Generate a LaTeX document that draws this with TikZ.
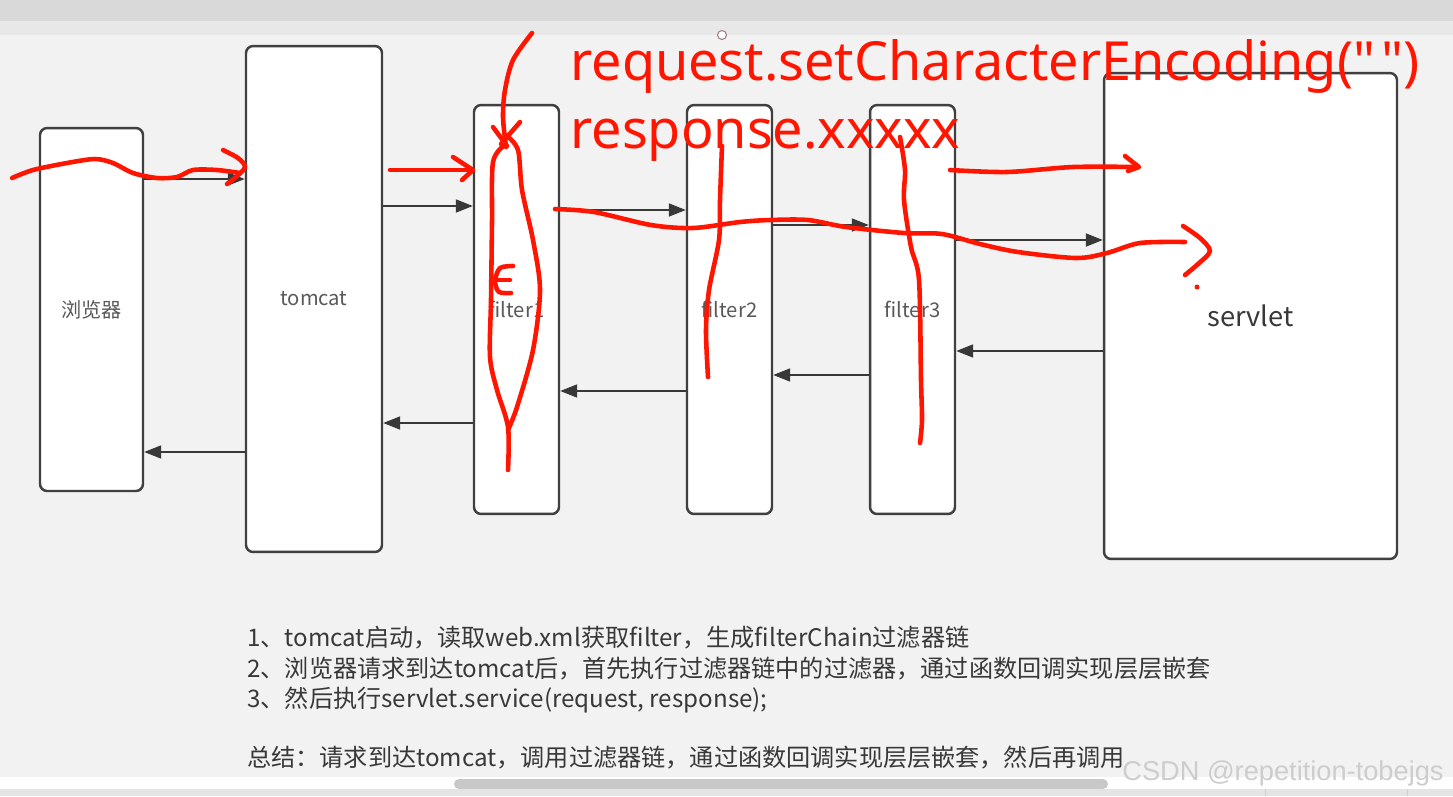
\documentclass[tikz,border=0pt]{standalone}
\usepackage{fontspec}
\setmainfont{Noto Sans CJK SC}
\newfontfamily\wmfont{Liberation Sans}
\newfontfamily\penfont{Noto Sans}
\usetikzlibrary{arrows.meta,positioning,calc}
\definecolor{canvas}{HTML}{F2F2F2}
\definecolor{topbar}{HTML}{D9D9D9}
\definecolor{tabbar}{HTML}{E8E8E8}
\definecolor{edge}{HTML}{404040}
\definecolor{ink}{HTML}{383838}
\definecolor{label}{HTML}{595959}
\definecolor{pen}{HTML}{FF1500}
\definecolor{thumb}{HTML}{C8C8C8}
\definecolor{strip}{HTML}{E4E4E4}
\definecolor{wmgray}{HTML}{CDCDCD}
\definecolor{cursor}{HTML}{A07C7C}
\tikzset{
  lane/.style={draw=edge,fill=white,line width=1.4pt,rounded corners=4pt,
    inner sep=0pt,font=\fontsize{11.5}{13}\selectfont\color{label}},
  arr/.style={-{Triangle[length=0.34cm,width=0.26cm]},draw=ink,line width=1.1pt},
  pen_line/.style={draw=pen,line width=2.6pt,line cap=round,line join=round},
  pen_text/.style={anchor=base west,inner sep=0pt,font=\penfont\fontsize{30.7}{32}\selectfont,text=pen},
  note/.style={anchor=base west,inner sep=0pt,font=\fontsize{13.75}{16}\selectfont\color{ink}},
}
\begin{document}
\begin{tikzpicture}[x=0.02cm,y=-0.02cm]
  \useasboundingbox (0,0) rectangle (1453,796);
  % window background
  \fill[canvas] (0,0) rectangle (1453,796);
  \fill[topbar] (0,0) rectangle (1453,21);
  \fill[tabbar] (0,21) rectangle (1453,35);
  \fill[white] (0,777) rectangle (1453,789);
  \fill[thumb,rounded corners=0.1cm] (454,779) rectangle (1108,789);
  \fill[strip] (0,789) rectangle (1453,796);
  \draw[wmgray,line width=0.5pt] (1265,789) -- (1265,796) (1407,789) -- (1407,796);
  \draw[cursor,fill=white,line width=0.6pt] (722,35) circle (0.09cm);

  \node[lane,minimum width=2.06cm,minimum height=7.26cm] (browser) at (91.5,309.5) {浏览器};
  \node[lane,minimum width=2.72cm,minimum height=10.12cm] (tomcat) at (314,299) {tomcat};
  \node[lane,minimum width=1.7cm,minimum height=8.18cm] (filter1) at (516.5,309.5) {filter1};
  \node[lane,minimum width=1.7cm,minimum height=8.18cm] (filter2) at (729.5,309.5) {filter2};
  \node[lane,minimum width=1.7cm,minimum height=8.18cm] (filter3) at (912.5,309.5) {filter3};
  \node[lane,minimum width=5.86cm,minimum height=9.72cm,font=\fontsize{15.5}{17}\selectfont\color{ink}] (servlet) at (1250.5,316) {servlet};

  \draw[arr] (browser.east |- 0,179) -- (tomcat.west |- 0,179);
  \draw[arr] (tomcat.west |- 0,452) -- (browser.east |- 0,452);
  \draw[arr] (tomcat.east |- 0,206) -- (filter1.west |- 0,206);
  \draw[arr] (filter1.west |- 0,423) -- (tomcat.east |- 0,423);
  \draw[arr] (filter1.east |- 0,210) -- (filter2.west |- 0,210);
  \draw[arr] (filter2.west |- 0,391) -- (filter1.east |- 0,391);
  \draw[arr] (filter2.east |- 0,225) -- (filter3.west |- 0,225);
  \draw[arr] (filter3.west |- 0,375) -- (filter2.east |- 0,375);
  \draw[arr] (filter3.east |- 0,240) -- (servlet.west |- 0,240);
  \draw[arr] (servlet.west |- 0,351) -- (filter3.east |- 0,351);

  \node[note] (step1) at (247,646) {1、tomcat启动，读取web.xml获取filter，生成filterChain过滤器链};
  \node[note] (step2) at (247,677) {2、浏览器请求到达tomcat后，首先执行过滤器链中的过滤器，通过函数回调实现层层嵌套};
  \node[note] (step3) at (247,707) {3、然后执行servlet.service(request, response);};
  \node[note] (summary) at (247,766) {总结：请求到达tomcat，调用过滤器链，通过函数回调实现层层嵌套，然后再调用};
  \node[anchor=base west,inner sep=0pt,font=\wmfont\fontsize{15.5}{17}\selectfont,text=wmgray] (csdn) at (1122,780) {CSDN @repetition-tobejgs};

  % hand-written notes
  \node[pen_text] (encoding) at (570,80) {request.setCharacterEncoding("\kern0.12em")};
  \node[pen_text] (resp) at (570,148) {response.xxxxx};

  % request path, hand drawn
  \draw[pen_line] plot[smooth] coordinates {(12,178) (33,170) (67,163) (95,159) (113,163) (133,173) (157,178) (177,177) (193,170) (217,170) (240,173)};
  \draw[pen_line] plot[smooth] coordinates {(223,150) (238,158) (245,167) (236,177) (227,184)};
  \draw[pen_line] (390,170) -- (472,170);
  \draw[pen_line] (453,157) -- (473,170) -- (462,180);
  \draw[pen_line] plot[smooth] coordinates {(532,33) (513,60) (505,90) (503,117) (506,147)};
  \draw[pen_line] (493,127) -- (507,146);
  \draw[pen_line] (520,122) -- (501,144);
  \draw[pen_line] plot[smooth] coordinates {(505,145) (493,162) (492,223) (491,300) (490,357) (497,390) (508,427) (508,470)};
  \draw[pen_line] plot[smooth] coordinates {(506,135) (518,150) (522,190) (533,240) (540,290) (533,350) (517,407) (508,430)};
  \draw[pen_line] plot[smooth] coordinates {(513,266) (500,268) (495,281) (499,292) (511,293)};
  \draw[pen_line] (497,280) -- (510,280);
  \draw[pen_line] plot[smooth] coordinates {(555,209) (594,212) (651,225) (693,228) (740,222) (770,220) (808,220) (846,227) (904,233) (942,234) (980,244) (1018,252) (1076,258) (1107,253) (1140,243) (1185,242)};
  \draw[pen_line] plot[smooth] coordinates {(1183,226) (1200,238) (1210,251) (1198,264) (1185,275)};
  \fill[pen] (1197,287) circle (0.05cm);
  \draw[pen_line] plot[smooth] coordinates {(950,170) (1007,172) (1073,167) (1138,167)};
  \draw[pen_line] (1125,156) -- (1139,167) -- (1128,171);
  \draw[pen_line] plot[smooth] coordinates {(722,146) (720,200) (719,240) (709,290) (706,330) (708,377)};
  \draw[pen_line] plot[smooth] coordinates {(900,137) (905,170) (904,200) (911,247) (919,280) (921,380) (922,420) (920,443)};
\end{tikzpicture}
\end{document}
